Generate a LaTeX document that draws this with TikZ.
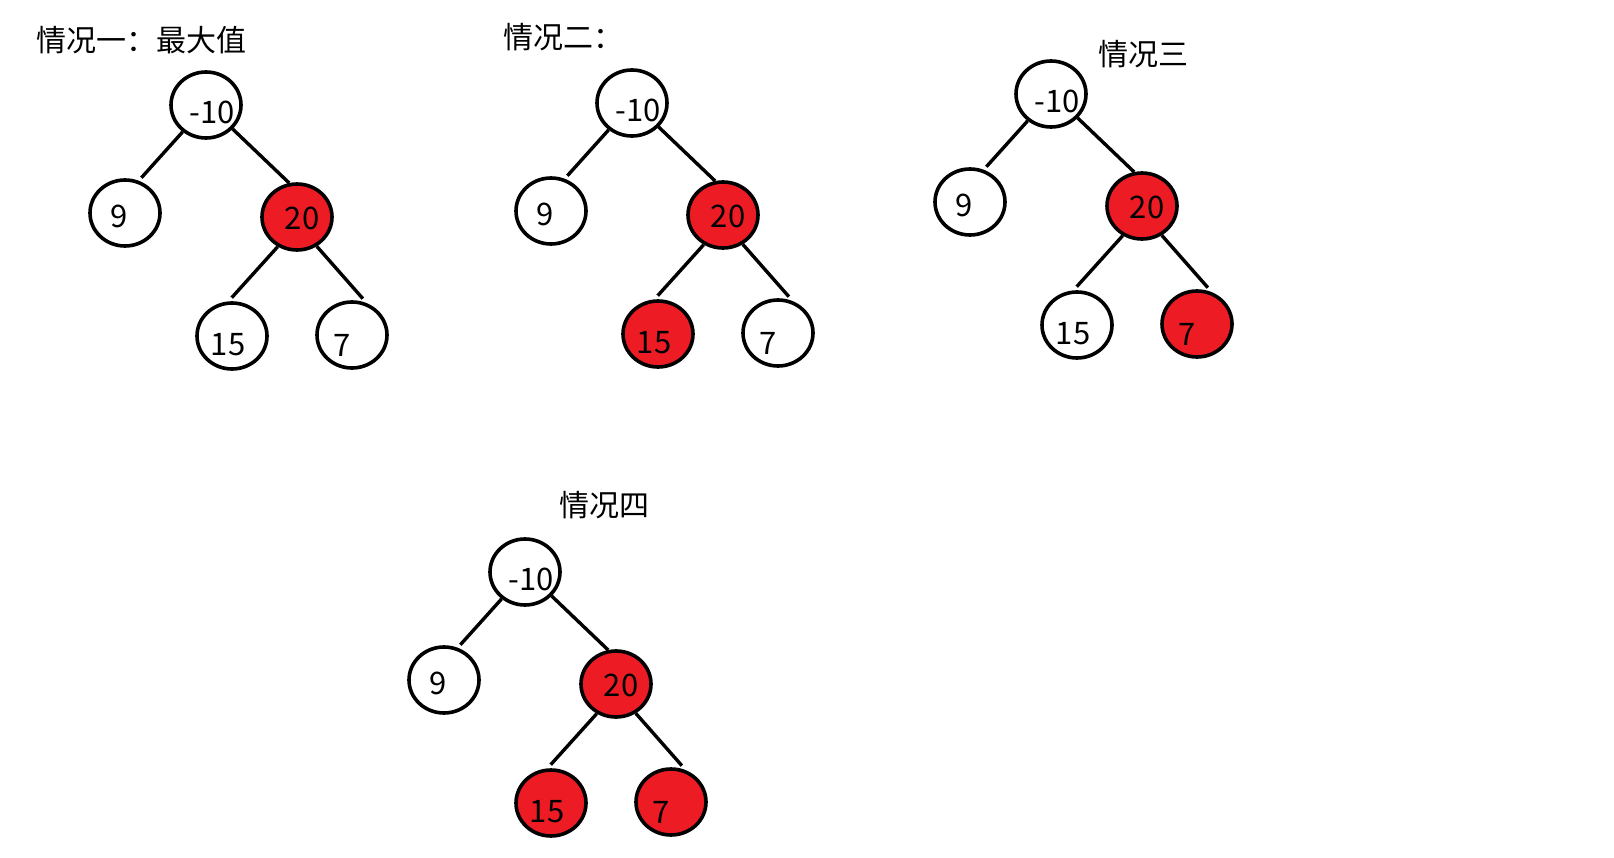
\documentclass[tikz,border=0pt]{standalone}
\usepackage{fontspec}
\setmainfont{Noto Sans CJK SC}
\usetikzlibrary{shapes.geometric}
\definecolor{nodered}{RGB}{237,28,36}

\begin{document}
\begin{tikzpicture}[
	x=1pt, y=-1pt,
  line width=3.4pt,
  wnode/.style = {draw,ellipse,fill=white,line width=3.6pt,minimum width=70pt,minimum height=66pt,inner sep=0pt},
  rnode/.style = {wnode,fill=nodered},
  num/.style n args = {3}{label={[xshift=#1pt,yshift=#2pt]center:#3}},
  every label/.style = {font=\fontsize{31}{31}\selectfont,inner sep=0pt},
  title/.style = {font=\fontsize{30}{30}\selectfont,inner sep=0pt}
  ]
	\useasboundingbox (0,0) rectangle (1614,858);

	% case one
	\node[title,anchor=west] (t1) at (35,40) {情况一：最大值};
	\begin{scope}[shift={(206,105)}]
	\node[wnode,num={6}{-7}{-10}] (a0) at (0,0) {};
	\node[wnode,num={-6}{-3}{9}] (a9) at (-81,108) {};
	\node[rnode,num={5}{-1}{20}] (a20) at (91,112) {};
	\node[wnode,num={-4}{-9}{15}] (a15) at (26,231) {};
	\node[wnode,num={-10}{-10}{7}] (a7) at (146,230) {};
	\end{scope}
	\draw[shorten >=4pt] (a0.229) -- (a9.67);
	\draw (a0.318) -- (a20.103);
	\draw[shorten >=5pt] (a20.237) -- (a15.96);
	\draw[shorten >=6pt] (a20.304) -- (a7.65);

	% case two
	\node[title,anchor=west] (t2) at (502,37) {情况二：};
	\begin{scope}[shift={(632,103)}]
	\node[wnode,num={6}{-7}{-10}] (b0) at (0,0) {};
	\node[wnode,num={-6}{-3}{9}] (b9) at (-81,108) {};
	\node[rnode,num={5}{-1}{20}] (b20) at (91,112) {};
	\node[rnode,num={-4}{-9}{15}] (b15) at (26,231) {};
	\node[wnode,num={-10}{-10}{7}] (b7) at (146,230) {};
	\end{scope}
	\draw[shorten >=4pt] (b0.229) -- (b9.67);
	\draw (b0.318) -- (b20.103);
	\draw[shorten >=5pt] (b20.237) -- (b15.96);
	\draw[shorten >=6pt] (b20.304) -- (b7.65);

	% case three
	\node[title] (t3) at (1143,54) {情况三};
	\begin{scope}[shift={(1051,94)}]
	\node[wnode,num={6}{-7}{-10}] (c0) at (0,0) {};
	\node[wnode,num={-6}{-3}{9}] (c9) at (-81,108) {};
	\node[rnode,num={5}{-1}{20}] (c20) at (91,112) {};
	\node[wnode,num={-4}{-9}{15}] (c15) at (26,231) {};
	\node[rnode,num={-10}{-10}{7}] (c7) at (146,230) {};
	\end{scope}
	\draw[shorten >=4pt] (c0.229) -- (c9.67);
	\draw (c0.318) -- (c20.103);
	\draw[shorten >=5pt] (c20.237) -- (c15.96);
	\draw[shorten >=6pt] (c20.304) -- (c7.65);

	% case four
	\node[title] (t4) at (604,505) {情况四};
	\begin{scope}[shift={(525,572)}]
	\node[wnode,num={6}{-7}{-10}] (d0) at (0,0) {};
	\node[wnode,num={-6}{-3}{9}] (d9) at (-81,108) {};
	\node[rnode,num={5}{-1}{20}] (d20) at (91,112) {};
	\node[rnode,num={-4}{-9}{15}] (d15) at (26,231) {};
	\node[rnode,num={-10}{-10}{7}] (d7) at (146,230) {};
	\end{scope}
	\draw[shorten >=4pt] (d0.229) -- (d9.67);
	\draw (d0.318) -- (d20.103);
	\draw[shorten >=5pt] (d20.237) -- (d15.96);
	\draw[shorten >=6pt] (d20.304) -- (d7.65);

\end{tikzpicture}
\end{document}
